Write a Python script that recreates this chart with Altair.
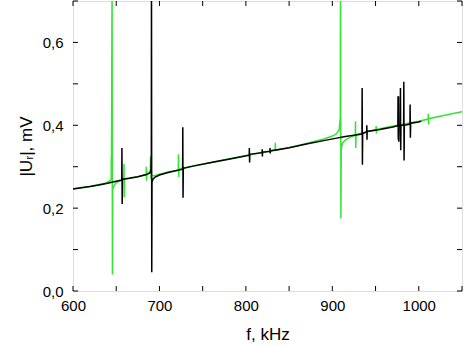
import altair as alt
import pandas as pd

# ---- data ----
green_f = [600, 610, 620, 630, 638, 643, 644.2, 644.3, 644.5, 645.2, 645.6, 645.9, 647, 650, 655,
           658.8, 659, 659.3, 659.6, 665, 675, 684.6, 684.8, 685.1, 685.4, 689.5, 689.8, 690.2, 690.6,
           695, 700, 710, 721.8, 722, 722.3, 722.6, 735, 750, 775, 800, 820, 833.8, 834, 834.3, 850,
           870, 890, 900, 905, 908, 909.2, 909.5, 909.9, 910.3, 912, 916, 922, 926.6, 926.8, 927.1,
           927.4, 940, 950.5, 950.7, 951, 951.3, 965, 980, 1000, 1010.8, 1011, 1011.3, 1011.6, 1030, 1050]
green_u = [0.247, 0.250, 0.253, 0.257, 0.261, 0.266, 0.270, 0.323, 0.285, 0.76, 0.04, 0.245, 0.252, 0.262, 0.266,
           0.270, 0.307, 0.226, 0.270, 0.272, 0.276, 0.281, 0.300, 0.266, 0.283, 0.287, 0.325, 0.270, 0.278,
           0.279, 0.282, 0.287, 0.292, 0.330, 0.275, 0.294, 0.300, 0.306, 0.317, 0.327, 0.335, 0.341, 0.358, 0.340, 0.346,
           0.356, 0.367, 0.374, 0.380, 0.390, 0.420, 0.76, 0.175, 0.345, 0.358, 0.366, 0.372, 0.376, 0.410, 0.345,
           0.377, 0.385, 0.389, 0.398, 0.380, 0.390, 0.396, 0.402, 0.410, 0.415, 0.428, 0.402, 0.416, 0.424, 0.433]

black_f = [600, 610, 620, 630, 640, 650, 656.4, 656.6, 656.9, 657.2, 665, 675, 685, 689, 690.2, 690.4,
           690.6, 690.8, 691.1, 691.4, 692.5, 695, 700, 710, 726.8, 727, 727.3, 727.6, 740, 760, 780, 795,
           803.8, 804, 804.3, 804.6, 818.7, 818.9, 819.1, 819.3, 827.8, 828, 828.2, 828.4, 850, 870, 890,
           905, 915, 925, 934.3, 934.5, 934.8, 935.1, 939.7, 939.9, 940.1, 940.3, 955, 970, 975.8, 976,
           976.3, 976.6, 976.9, 977.2, 978.6, 978.8, 979.1, 979.4, 982.5, 982.7, 983, 983.3, 989.8, 990,
           990.3, 990.6, 1000, 1003]
black_u = [0.246, 0.249, 0.252, 0.256, 0.260, 0.265, 0.268, 0.345, 0.210, 0.270, 0.272, 0.276, 0.281, 0.285, 0.292, 0.322,
           0.290, 0.76, 0.045, 0.262, 0.270, 0.275, 0.280, 0.286, 0.294, 0.395, 0.225, 0.296, 0.302, 0.310, 0.318, 0.324,
           0.328, 0.345, 0.310, 0.330, 0.334, 0.342, 0.325, 0.335, 0.337, 0.345, 0.332, 0.338, 0.346, 0.355, 0.363,
           0.369, 0.373, 0.376, 0.379, 0.490, 0.305, 0.380, 0.384, 0.400, 0.365, 0.385, 0.390, 0.396, 0.399, 0.470,
           0.365, 0.470, 0.360, 0.400, 0.400, 0.490, 0.340, 0.400, 0.400, 0.505, 0.315, 0.400, 0.403, 0.450,
           0.370, 0.405, 0.408, 0.410]

x_label_values = [600, 700, 800, 900, 1000]
y_label_values = [0.0, 0.2, 0.4, 0.6]
x_tick_values = [600, 650, 700, 750, 800, 850, 900, 950, 1000, 1050]
y_tick_values = [0.0, 0.1, 0.2, 0.3, 0.4, 0.5, 0.6, 0.7]

green_df = pd.DataFrame({"f": green_f, "U": green_u, "i": range(len(green_f))})
black_df = pd.DataFrame({"f": black_f, "U": black_u, "i": range(len(black_f))})
xt_df = pd.DataFrame({"f": x_tick_values})
yt_df = pd.DataFrame({"U": y_tick_values})

FONT = "Liberation Sans"
W, H = 389, 290
TL = 5  # inward tick length
xs = alt.Scale(domain=[600, 1050], nice=False, zero=False)
ys = alt.Scale(domain=[0, 0.7], nice=False, zero=False)

lbl_x = alt.Axis(orient="bottom", values=x_label_values, tickSize=0, domain=False, grid=False,
                 labelFont=FONT, labelFontSize=15, labelColor="black", labelPadding=7, format="d",
                 labelFlush=False, labelOverlap=False,
                 title="f, kHz", titleFont=FONT, titleFontSize=17, titleFontWeight="normal",
                 titleColor="black", titlePadding=13)
lbl_y = alt.Axis(orient="left", values=y_label_values, tickSize=0, domain=False, grid=False,
                 labelFont=FONT, labelFontSize=15, labelColor="black", labelPadding=10,
                 labelFlush=False, labelOverlap=False,
                 labelExpr="replace(format(datum.value, '.1f'), '.', ',')",
                 title="|Uᵣ|, mV", titleFont=FONT, titleFontSize=17, titleFontWeight="normal",
                 titleColor="black", titlePadding=7)

X = alt.X("f:Q", scale=xs, axis=lbl_x)
Y = alt.Y("U:Q", scale=ys, axis=lbl_y)

green = alt.Chart(green_df).mark_line(color="#33e633", strokeWidth=1.5, clip=True).encode(
    x=X, y=Y, order="i:Q")
black = alt.Chart(black_df).mark_line(color="black", strokeWidth=1.5, clip=True).encode(
    x=X, y=Y, order="i:Q")

# inward ticks on all four sides, placed by the shared scales
tick_bottom = alt.Chart(xt_df).mark_rule(color="black", strokeWidth=1).encode(
    x=X, y=alt.value(H), y2=alt.value(H - TL))
tick_top = alt.Chart(xt_df).mark_rule(color="black", strokeWidth=1).encode(
    x=X, y=alt.value(0), y2=alt.value(TL))
tick_left = alt.Chart(yt_df).mark_rule(color="black", strokeWidth=1).encode(
    y=Y, x=alt.value(0), x2=alt.value(TL))
tick_right = alt.Chart(yt_df).mark_rule(color="black", strokeWidth=1).encode(
    y=Y, x=alt.value(W), x2=alt.value(W - TL))

chart = alt.layer(green, black, tick_bottom, tick_top, tick_left, tick_right).properties(
    width=W, height=H,
    autosize=alt.AutoSizeParams(type="none"),
    padding={"left": 73, "top": 1, "right": 12, "bottom": 55},
).configure_view(stroke="black", strokeWidth=1.5).configure(background="white")

chart.save("out.html", embed_options={"renderer": "svg", "actions": False})
